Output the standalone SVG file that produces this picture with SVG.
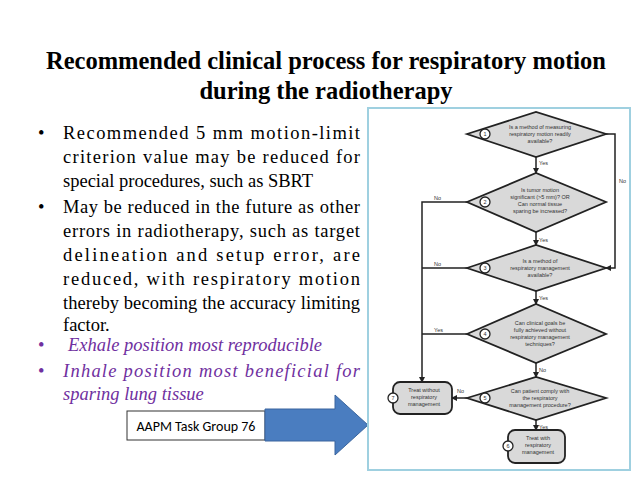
<svg xmlns="http://www.w3.org/2000/svg" width="638" height="478" viewBox="0 0 638 478">
<defs>
<style>
.t{font-family:"Liberation Serif",serif;font-size:18.5px;fill:#000}
.p{font-family:"Liberation Serif",serif;font-size:18.5px;fill:#7030A0;font-style:italic}
.d{fill:#d9d9d9;stroke:#222;stroke-width:1.8}
.c{fill:#fff;stroke:#222;stroke-width:1.3}
.s{font-family:"Liberation Sans",sans-serif;font-size:5.5px;fill:#333;text-anchor:middle}
.l{stroke:#222;stroke-width:1.5;fill:none}
</style>
<marker id="a" markerWidth="6" markerHeight="6" refX="5" refY="3" orient="auto" markerUnits="userSpaceOnUse"><path d="M0,0L6,3L0,6z" fill="#222"/></marker>
</defs>
<rect width="638" height="478" fill="#fff"/>
<g id="title" font-family="Liberation Serif,serif" font-weight="bold" font-size="24.5" text-anchor="middle">
<text x="326" y="69">Recommended clinical process for respiratory motion</text>
<text x="326" y="99">during the radiotherapy</text>
</g>
<g id="bullets">
<text class="t" x="38" y="139">•</text><text class="t" x="63" y="139" textLength="297" lengthAdjust="spacing">Recommended 5 mm motion-limit</text>
<text class="t" x="63" y="163" textLength="297" lengthAdjust="spacing">criterion value may be reduced for</text>
<text class="t" x="63" y="187">special procedures, such as SBRT</text>
<text class="t" x="38" y="213">•</text><text class="t" x="63" y="213" textLength="297" lengthAdjust="spacing">May be reduced in the future as other</text>
<text class="t" x="63" y="237" textLength="297" lengthAdjust="spacing">errors in radiotherapy, such as target</text>
<text class="t" x="63" y="261" textLength="297" lengthAdjust="spacing">delineation and setup error, are</text>
<text class="t" x="63" y="285" textLength="297" lengthAdjust="spacing">reduced, with respiratory motion</text>
<text class="t" x="63" y="309" textLength="297" lengthAdjust="spacing">thereby becoming the accuracy limiting</text>
<text class="t" x="63" y="331">factor.</text>
<text class="p" x="38" y="351" style="font-style:normal">•</text><text class="p" x="68" y="351">Exhale position most reproducible</text>
<text class="p" x="38" y="377" style="font-style:normal">•</text><text class="p" x="63" y="377" textLength="297" lengthAdjust="spacing">Inhale position most beneficial for</text>
<text class="p" x="63" y="400">sparing lung tissue</text>
</g>
<g id="label"><rect x="127" y="411" width="138" height="29" fill="#fff" stroke="#333"/><text x="196" y="431" font-family="Calibri,Liberation Sans,sans-serif" font-size="14" text-anchor="middle">AAPM Task Group 76</text></g>
<g id="bigarrow"><path d="M265,409H335V395L368,425L335,455V441H265z" fill="#4a7dc0" stroke="#3a659e"/></g>
<rect x="368" y="108" width="262" height="362" fill="#fff" stroke="#9fd0e0" stroke-width="2"/>
<g id="connectors">
<path class="l" d="M536,157V173" marker-end="url(#a)"/>
<path class="l" d="M536,232V245" marker-end="url(#a)"/>
<path class="l" d="M536,291V304" marker-end="url(#a)"/>
<path class="l" d="M536,363V377" marker-end="url(#a)"/>
<path class="l" d="M536,420V430" marker-end="url(#a)"/>
<path class="l" d="M606,134H615V268H606" marker-end="url(#a)"/>
<path class="l" d="M467,202H422V382" marker-end="url(#a)"/>
<path class="l" d="M467,268H422M467,334H422"/>
<path class="l" d="M467,398H452" marker-end="url(#a)"/>
<g class="s" style="text-anchor:start"><text x="539" y="165">Yes</text><text x="539" y="242">Yes</text><text x="539" y="300">Yes</text><text x="539" y="372">No</text><text x="539" y="429">Yes</text><text x="619" y="183">No</text><text x="434" y="200">No</text><text x="434" y="266">No</text><text x="434" y="332">Yes</text><text x="457" y="393">No</text></g>
</g>
<g id="n1"><path class="d" d="M467,134L536,112L606,134L536,157z"/><circle class="c" cx="485" cy="134" r="5"/><text class="s" x="485" y="136">1</text><text class="s" x="540" y="129">Is a method of measuring</text><text class="s" x="540" y="136">respiratory motion readily</text><text class="s" x="540" y="143">available?</text></g>
<g id="n2"><path class="d" d="M467,202L536,173L606,202L536,232z"/><circle class="c" cx="485" cy="202" r="5"/><text class="s" x="485" y="204">2</text><text class="s" x="540" y="192">Is tumor motion</text><text class="s" x="540" y="199">significant (&gt;5 mm)? OR</text><text class="s" x="540" y="206">Can normal tissue</text><text class="s" x="540" y="213">sparing be increased?</text></g>
<g id="n3"><path class="d" d="M467,268L536,245L606,268L536,291z"/><circle class="c" cx="485" cy="268" r="5"/><text class="s" x="485" y="270">3</text><text class="s" x="540" y="263">Is a method of</text><text class="s" x="540" y="270">respiratory management</text><text class="s" x="540" y="277">available?</text></g>
<g id="n4"><path class="d" d="M467,334L536,304L606,334L536,363z"/><circle class="c" cx="485" cy="334" r="5"/><text class="s" x="485" y="336">4</text><text class="s" x="540" y="325">Can clinical goals be</text><text class="s" x="540" y="332">fully achieved without</text><text class="s" x="540" y="339">respiratory management</text><text class="s" x="540" y="346">techniques?</text></g>
<g id="n5"><path class="d" d="M467,398L536,377L606,398L536,420z"/><circle class="c" cx="485" cy="398" r="5"/><text class="s" x="485" y="400">5</text><text class="s" x="540" y="393">Can patient comply with</text><text class="s" x="540" y="400">the respiratory</text><text class="s" x="540" y="407">management procedure?</text></g>
<g id="n7"><rect class="d" x="393" y="382" width="59" height="32" rx="7"/><circle class="c" cx="393" cy="398" r="5"/><text class="s" x="393" y="400">7</text><text class="s" x="424" y="392">Treat without</text><text class="s" x="424" y="399">respiratory</text><text class="s" x="424" y="406">management</text></g>
<g id="n6"><rect class="d" x="508" y="430" width="57" height="33" rx="7"/><circle class="c" cx="508" cy="446" r="5"/><text class="s" x="508" y="448">6</text><text class="s" x="538" y="440">Treat with</text><text class="s" x="538" y="447">respiratory</text><text class="s" x="538" y="454">management</text></g>
</svg>
